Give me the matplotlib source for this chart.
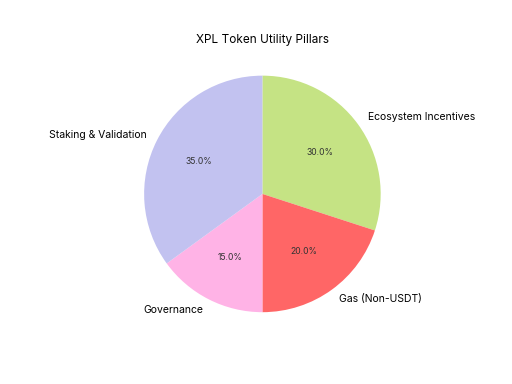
import matplotlib
matplotlib.use("Agg")
import matplotlib.pyplot as plt

plt.rcParams['font.family'] = ['Inter', 'DejaVu Sans']

labels = ["Ecosystem Incentives", "Gas (Non-USDT)", "Governance", "Staking & Validation"]
values = [30, 20, 15, 35]
colors = ["#c5e384", "#ff6666", "#ffb3e6", "#c2c2f0"]

fig, ax = plt.subplots(figsize=(5.12, 3.84), dpi=100)
wedges, texts, autotexts = ax.pie(values, labels=labels, colors=colors, autopct='%1.1f%%',
                                  startangle=90, counterclock=False,
                                  textprops={'fontsize': 7.5})
for t in autotexts:
    t.set_fontsize(6.2)
    t.set_color('#333333')
ax.set_title("XPL Token Utility Pillars", fontsize=8.5, pad=2)
fig.savefig("out.png", dpi=100)
